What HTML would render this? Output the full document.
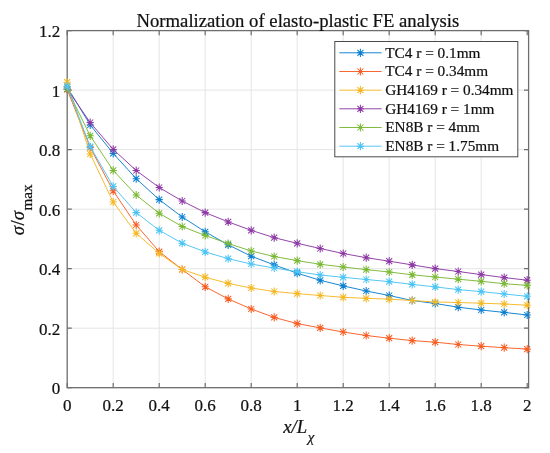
<!DOCTYPE html>
<html><head><meta charset="utf-8"><title>Normalization of elasto-plastic FE analysis</title>
<style>
html,body{margin:0;padding:0;background:#fff}
svg{display:block}
text{font-family:"Liberation Serif","Times New Roman",serif;fill:#111;stroke:#111;stroke-width:0.22px}
.i{font-style:italic}
</style></head>
<body>
<svg width="550" height="453" viewBox="0 0 550 453">
<defs><g id="m"><path d="M0 -4.1 V4.1 M-3.6 0 H3.6 M-3 -3 L3 3 M-3 3 L3 -3" fill="none" stroke-width="1.05" stroke-linecap="butt"/></g></defs>
<rect width="550" height="453" fill="#fff"/>
<path d="M113.2 30.6 V387.7 M159.2 30.6 V387.7 M205.2 30.6 V387.7 M251.2 30.6 V387.7 M297.2 30.6 V387.7 M343.2 30.6 V387.7 M389.2 30.6 V387.7 M435.2 30.6 V387.7 M481.2 30.6 V387.7 M67.2 328.2 H528.6 M67.2 268.7 H528.6 M67.2 209.2 H528.6 M67.2 149.6 H528.6 M67.2 90.1 H528.6" stroke="#e5e5e5" stroke-width="1" fill="none"/>
<rect x="67.2" y="30.6" width="461.4" height="357.1" fill="none" stroke="#6e6e6e" stroke-width="1.3"/>
<path d="M67.2 387.7 v-4.6 M67.2 30.6 v4.6 M113.2 387.7 v-4.6 M113.2 30.6 v4.6 M159.2 387.7 v-4.6 M159.2 30.6 v4.6 M205.2 387.7 v-4.6 M205.2 30.6 v4.6 M251.2 387.7 v-4.6 M251.2 30.6 v4.6 M297.2 387.7 v-4.6 M297.2 30.6 v4.6 M343.2 387.7 v-4.6 M343.2 30.6 v4.6 M389.2 387.7 v-4.6 M389.2 30.6 v4.6 M435.2 387.7 v-4.6 M435.2 30.6 v4.6 M481.2 387.7 v-4.6 M481.2 30.6 v4.6 M527.2 387.7 v-4.6 M527.2 30.6 v4.6 M67.2 387.7 h4.6 M528.6 387.7 h-4.6 M67.2 328.2 h4.6 M528.6 328.2 h-4.6 M67.2 268.7 h4.6 M528.6 268.7 h-4.6 M67.2 209.2 h4.6 M528.6 209.2 h-4.6 M67.2 149.6 h4.6 M528.6 149.6 h-4.6 M67.2 90.1 h4.6 M528.6 90.1 h-4.6 M67.2 30.6 h4.6 M528.6 30.6 h-4.6" stroke="#6e6e6e" stroke-width="1.2" fill="none"/>
<g stroke="#0c80d0"><polyline points="67.2,87.0 90.2,125.0 113.2,153.4 136.2,178.7 159.2,199.6 182.2,217.0 205.2,231.8 228.2,244.8 251.2,256.2 274.2,264.9 297.2,273.2 320.2,280.3 343.2,285.9 366.2,291.0 389.2,295.5 412.2,300.5 435.2,303.5 458.2,307.2 481.2,310.0 504.2,312.4 527.2,315.0" fill="none" stroke-width="0.95" stroke-linejoin="round"/><use href="#m" x="67.2" y="87.0"/><use href="#m" x="90.2" y="125.0"/><use href="#m" x="113.2" y="153.4"/><use href="#m" x="136.2" y="178.7"/><use href="#m" x="159.2" y="199.6"/><use href="#m" x="182.2" y="217.0"/><use href="#m" x="205.2" y="231.8"/><use href="#m" x="228.2" y="244.8"/><use href="#m" x="251.2" y="256.2"/><use href="#m" x="274.2" y="264.9"/><use href="#m" x="297.2" y="273.2"/><use href="#m" x="320.2" y="280.3"/><use href="#m" x="343.2" y="285.9"/><use href="#m" x="366.2" y="291.0"/><use href="#m" x="389.2" y="295.5"/><use href="#m" x="412.2" y="300.5"/><use href="#m" x="435.2" y="303.5"/><use href="#m" x="458.2" y="307.2"/><use href="#m" x="481.2" y="310.0"/><use href="#m" x="504.2" y="312.4"/><use href="#m" x="527.2" y="315.0"/></g>
<g stroke="#f85e24"><polyline points="67.2,89.5 90.2,147.5 113.2,190.8 136.2,225.0 159.2,251.6 182.2,269.5 205.2,286.8 228.2,298.9 251.2,309.0 274.2,317.4 297.2,323.6 320.2,327.9 343.2,332.0 366.2,335.5 389.2,338.2 412.2,340.6 435.2,342.2 458.2,344.5 481.2,346.2 504.2,347.7 527.2,349.1" fill="none" stroke-width="0.95" stroke-linejoin="round"/><use href="#m" x="67.2" y="89.5"/><use href="#m" x="90.2" y="147.5"/><use href="#m" x="113.2" y="190.8"/><use href="#m" x="136.2" y="225.0"/><use href="#m" x="159.2" y="251.6"/><use href="#m" x="182.2" y="269.5"/><use href="#m" x="205.2" y="286.8"/><use href="#m" x="228.2" y="298.9"/><use href="#m" x="251.2" y="309.0"/><use href="#m" x="274.2" y="317.4"/><use href="#m" x="297.2" y="323.6"/><use href="#m" x="320.2" y="327.9"/><use href="#m" x="343.2" y="332.0"/><use href="#m" x="366.2" y="335.5"/><use href="#m" x="389.2" y="338.2"/><use href="#m" x="412.2" y="340.6"/><use href="#m" x="435.2" y="342.2"/><use href="#m" x="458.2" y="344.5"/><use href="#m" x="481.2" y="346.2"/><use href="#m" x="504.2" y="347.7"/><use href="#m" x="527.2" y="349.1"/></g>
<g stroke="#f5b825"><polyline points="67.2,82.2 90.2,154.0 113.2,202.0 136.2,233.3 159.2,253.4 182.2,269.5 205.2,277.2 228.2,283.4 251.2,288.0 274.2,291.5 297.2,293.6 320.2,295.5 343.2,297.3 366.2,298.3 389.2,299.2 412.2,300.5 435.2,302.0 458.2,302.5 481.2,303.2 504.2,304.0 527.2,305.2" fill="none" stroke-width="0.95" stroke-linejoin="round"/><use href="#m" x="67.2" y="82.2"/><use href="#m" x="90.2" y="154.0"/><use href="#m" x="113.2" y="202.0"/><use href="#m" x="136.2" y="233.3"/><use href="#m" x="159.2" y="253.4"/><use href="#m" x="182.2" y="269.5"/><use href="#m" x="205.2" y="277.2"/><use href="#m" x="228.2" y="283.4"/><use href="#m" x="251.2" y="288.0"/><use href="#m" x="274.2" y="291.5"/><use href="#m" x="297.2" y="293.6"/><use href="#m" x="320.2" y="295.5"/><use href="#m" x="343.2" y="297.3"/><use href="#m" x="366.2" y="298.3"/><use href="#m" x="389.2" y="299.2"/><use href="#m" x="412.2" y="300.5"/><use href="#m" x="435.2" y="302.0"/><use href="#m" x="458.2" y="302.5"/><use href="#m" x="481.2" y="303.2"/><use href="#m" x="504.2" y="304.0"/><use href="#m" x="527.2" y="305.2"/></g>
<g stroke="#8e3aa5"><polyline points="67.2,89.0 90.2,122.5 113.2,149.4 136.2,170.5 159.2,187.5 182.2,201.0 205.2,212.6 228.2,221.9 251.2,230.3 274.2,237.7 297.2,243.3 320.2,248.5 343.2,253.5 366.2,257.7 389.2,261.2 412.2,264.9 435.2,268.6 458.2,271.5 481.2,274.6 504.2,277.6 527.2,280.2" fill="none" stroke-width="0.95" stroke-linejoin="round"/><use href="#m" x="67.2" y="89.0"/><use href="#m" x="90.2" y="122.5"/><use href="#m" x="113.2" y="149.4"/><use href="#m" x="136.2" y="170.5"/><use href="#m" x="159.2" y="187.5"/><use href="#m" x="182.2" y="201.0"/><use href="#m" x="205.2" y="212.6"/><use href="#m" x="228.2" y="221.9"/><use href="#m" x="251.2" y="230.3"/><use href="#m" x="274.2" y="237.7"/><use href="#m" x="297.2" y="243.3"/><use href="#m" x="320.2" y="248.5"/><use href="#m" x="343.2" y="253.5"/><use href="#m" x="366.2" y="257.7"/><use href="#m" x="389.2" y="261.2"/><use href="#m" x="412.2" y="264.9"/><use href="#m" x="435.2" y="268.6"/><use href="#m" x="458.2" y="271.5"/><use href="#m" x="481.2" y="274.6"/><use href="#m" x="504.2" y="277.6"/><use href="#m" x="527.2" y="280.2"/></g>
<g stroke="#7ab835"><polyline points="67.2,89.0 90.2,135.8 113.2,170.4 136.2,195.0 159.2,213.3 182.2,226.5 205.2,235.5 228.2,243.5 251.2,251.0 274.2,256.5 297.2,260.6 320.2,264.3 343.2,267.0 366.2,269.6 389.2,272.0 412.2,274.8 435.2,277.0 458.2,279.2 481.2,281.3 504.2,283.7 527.2,285.4" fill="none" stroke-width="0.95" stroke-linejoin="round"/><use href="#m" x="67.2" y="89.0"/><use href="#m" x="90.2" y="135.8"/><use href="#m" x="113.2" y="170.4"/><use href="#m" x="136.2" y="195.0"/><use href="#m" x="159.2" y="213.3"/><use href="#m" x="182.2" y="226.5"/><use href="#m" x="205.2" y="235.5"/><use href="#m" x="228.2" y="243.5"/><use href="#m" x="251.2" y="251.0"/><use href="#m" x="274.2" y="256.5"/><use href="#m" x="297.2" y="260.6"/><use href="#m" x="320.2" y="264.3"/><use href="#m" x="343.2" y="267.0"/><use href="#m" x="366.2" y="269.6"/><use href="#m" x="389.2" y="272.0"/><use href="#m" x="412.2" y="274.8"/><use href="#m" x="435.2" y="277.0"/><use href="#m" x="458.2" y="279.2"/><use href="#m" x="481.2" y="281.3"/><use href="#m" x="504.2" y="283.7"/><use href="#m" x="527.2" y="285.4"/></g>
<g stroke="#4cc4f4"><polyline points="67.2,86.2 90.2,146.6 113.2,186.4 136.2,212.6 159.2,230.3 182.2,243.2 205.2,251.9 228.2,258.7 251.2,264.0 274.2,268.0 297.2,271.7 320.2,275.0 343.2,277.3 366.2,279.5 389.2,281.6 412.2,284.4 435.2,286.9 458.2,289.6 481.2,291.6 504.2,294.0 527.2,296.3" fill="none" stroke-width="0.95" stroke-linejoin="round"/><use href="#m" x="67.2" y="86.2"/><use href="#m" x="90.2" y="146.6"/><use href="#m" x="113.2" y="186.4"/><use href="#m" x="136.2" y="212.6"/><use href="#m" x="159.2" y="230.3"/><use href="#m" x="182.2" y="243.2"/><use href="#m" x="205.2" y="251.9"/><use href="#m" x="228.2" y="258.7"/><use href="#m" x="251.2" y="264.0"/><use href="#m" x="274.2" y="268.0"/><use href="#m" x="297.2" y="271.7"/><use href="#m" x="320.2" y="275.0"/><use href="#m" x="343.2" y="277.3"/><use href="#m" x="366.2" y="279.5"/><use href="#m" x="389.2" y="281.6"/><use href="#m" x="412.2" y="284.4"/><use href="#m" x="435.2" y="286.9"/><use href="#m" x="458.2" y="289.6"/><use href="#m" x="481.2" y="291.6"/><use href="#m" x="504.2" y="294.0"/><use href="#m" x="527.2" y="296.3"/></g>
<g font-size="17" text-anchor="middle"><text x="67.2" y="410.8">0</text><text x="113.2" y="410.8">0.2</text><text x="159.2" y="410.8">0.4</text><text x="205.2" y="410.8">0.6</text><text x="251.2" y="410.8">0.8</text><text x="297.2" y="410.8">1</text><text x="343.2" y="410.8">1.2</text><text x="389.2" y="410.8">1.4</text><text x="435.2" y="410.8">1.6</text><text x="481.2" y="410.8">1.8</text><text x="527.2" y="410.8">2</text></g>
<g font-size="17" text-anchor="end"><text x="60.3" y="394.1">0</text><text x="60.3" y="334.6">0.2</text><text x="60.3" y="275.1">0.4</text><text x="60.3" y="215.6">0.6</text><text x="60.3" y="156.0">0.8</text><text x="60.3" y="96.5">1</text><text x="60.3" y="37.0">1.2</text></g>
<text x="297.9" y="27.2" font-size="18.7" text-anchor="middle">Normalization of elasto-plastic FE analysis</text>
<text x="283.2" y="432.8" font-size="18.7" class="i">x/L<tspan font-size="15" dx="0.6" dy="9.3">χ</tspan></text>
<text transform="translate(23.5 235.2) rotate(-90)" font-size="18.7"><tspan class="i" letter-spacing="0.5">σ</tspan>/<tspan class="i" letter-spacing="0.5">σ</tspan><tspan font-size="15.2" dy="8.6">max</tspan></text>
<rect x="334.8" y="41.5" width="183.0" height="115.3" fill="#fff" stroke="#4a4a4a" stroke-width="1"/>
<g stroke="#0c80d0"><path d="M339.3 52.8 H381.6" stroke-width="0.95" fill="none"/><use href="#m" x="360.4" y="52.8"/></g><text x="385.3" y="57.7" font-size="15.27">TC4 r = 0.1mm</text>
<g stroke="#f85e24"><path d="M339.3 71.5 H381.6" stroke-width="0.95" fill="none"/><use href="#m" x="360.4" y="71.5"/></g><text x="385.3" y="76.4" font-size="15.27">TC4 r = 0.34mm</text>
<g stroke="#f5b825"><path d="M339.3 90.2 H381.6" stroke-width="0.95" fill="none"/><use href="#m" x="360.4" y="90.2"/></g><text x="385.3" y="95.1" font-size="15.27">GH4169 r = 0.34mm</text>
<g stroke="#8e3aa5"><path d="M339.3 108.8 H381.6" stroke-width="0.95" fill="none"/><use href="#m" x="360.4" y="108.8"/></g><text x="385.3" y="113.7" font-size="15.27">GH4169 r = 1mm</text>
<g stroke="#7ab835"><path d="M339.3 127.5 H381.6" stroke-width="0.95" fill="none"/><use href="#m" x="360.4" y="127.5"/></g><text x="385.3" y="132.4" font-size="15.27">EN8B r = 4mm</text>
<g stroke="#4cc4f4"><path d="M339.3 146.2 H381.6" stroke-width="0.95" fill="none"/><use href="#m" x="360.4" y="146.2"/></g><text x="385.3" y="151.1" font-size="15.27">EN8B r = 1.75mm</text>
</svg>
</body></html>
